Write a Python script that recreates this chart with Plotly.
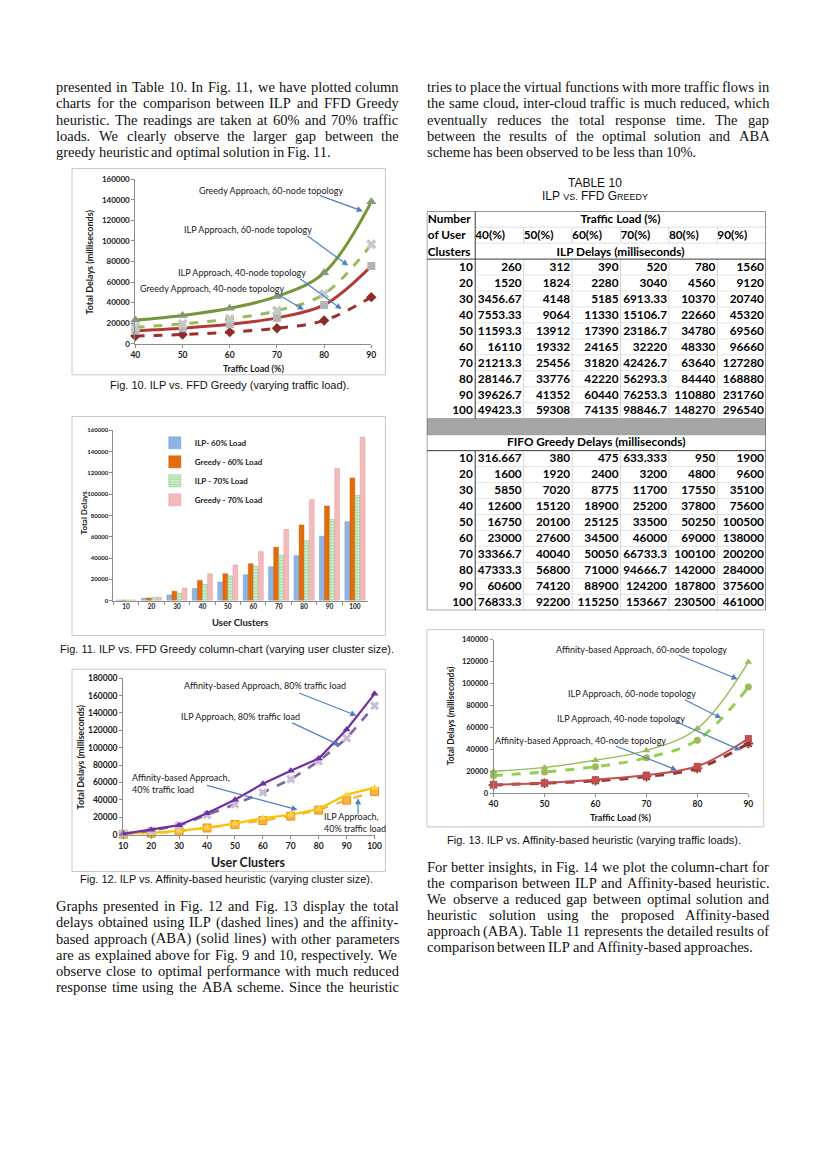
import plotly.graph_objects as go

W, H = 827, 1169
def fx(p): return p / W
def fy(p): return 1 - p / H

# ---------------- data ----------------
traffic_loads = [40, 50, 60, 70, 80, 90]
user_clusters = [10, 20, 30, 40, 50, 60, 70, 80, 90, 100]
load_labels = ["40(%)", "50(%)", "60(%)", "70(%)", "80(%)", "90(%)"]

# Table 10 - ILP delays (ms), one list per traffic-load column (rows = user clusters)
ilp_40 = [260, 1520, 3456.67, 7553.33, 11593.3, 16110, 21213.3, 28146.7, 39626.7, 49423.3]
ilp_50 = [312, 1824, 4148, 9064, 13912, 19332, 25456, 33776, 41352, 59308]
ilp_60 = [390, 2280, 5185, 11330, 17390, 24165, 31820, 42220, 60440, 74135]
ilp_70 = [520, 3040, 6913.33, 15106.7, 23186.7, 32220, 42426.7, 56293.3, 76253.3, 98846.7]
ilp_80 = [780, 4560, 10370, 22660, 34780, 48330, 63640, 84440, 110880, 148270]
ilp_90 = [1560, 9120, 20740, 45320, 69560, 96660, 127280, 168880, 231760, 296540]
# Table 10 - FIFO greedy delays (ms)
fifo_40 = [316.667, 1600, 5850, 12600, 16750, 23000, 33366.7, 47333.3, 60600, 76833.3]
fifo_50 = [380, 1920, 7020, 15120, 20100, 27600, 40040, 56800, 74120, 92200]
fifo_60 = [475, 2400, 8775, 18900, 25125, 34500, 50050, 71000, 88900, 115250]
fifo_70 = [633.333, 3200, 11700, 25200, 33500, 46000, 66733.3, 94666.7, 124200, 153667]
fifo_80 = [950, 4800, 17550, 37800, 50250, 69000, 100100, 142000, 187800, 230500]
fifo_90 = [1900, 9600, 35100, 75600, 100500, 138000, 200200, 284000, 375600, 461000]

# Affinity-based approach (read from Fig. 12 and Fig. 13)
aba_load80 = [800, 5500, 10800, 24500, 40000, 58500, 73500, 87500, 121000, 162000]
aba_load40 = [400, 1900, 4300, 8000, 12600, 19000, 22800, 29500, 46000, 54000]
aba_60node = [20000, 23500, 30000, 39000, 59000, 119500]
aba_40node = [7800, 9400, 12300, 16500, 24500, 49800]

ilp_cols = [ilp_40, ilp_50, ilp_60, ilp_70, ilp_80, ilp_90]
fifo_cols = [fifo_40, fifo_50, fifo_60, fifo_70, fifo_80, fifo_90]
r40 = user_clusters.index(40)
r60 = user_clusters.index(60)
ilp_40node = [c[r40] for c in ilp_cols]
ilp_60node = [c[r60] for c in ilp_cols]
greedy_40node = [c[r40] for c in fifo_cols]
greedy_60node = [c[r60] for c in fifo_cols]

# ---------------- figure ----------------
fig = go.Figure()
SANS = "Lato"
ARROW = "#4F81BD"

def line(x, y, ax, color, width, dash, sym, mcol, msize, shape="spline", mline=None):
    m = dict(symbol=sym, color=mcol, size=msize)
    if mline:
        m["line"] = mline
    return go.Scatter(x=x, y=y, xaxis=ax[0], yaxis=ax[1], mode="lines+markers",
                      line=dict(color=color, width=width, dash=dash, shape=shape),
                      marker=m, showlegend=False, cliponaxis=False, hoverinfo="skip")

# ---- Fig 10 ----
fig.add_trace(line(traffic_loads, ilp_40node, ("x", "y"), "#9E2F2F", 3, "dash", "diamond", "#8E2B2B", 8))
fig.add_trace(line(traffic_loads, greedy_40node, ("x", "y"), "#B23A36", 3, "solid", "square", "#B5B5B5", 8))
fig.add_trace(line(traffic_loads, ilp_60node, ("x", "y"), "#9BBB59", 3, "dash", "x", "#C8C8C8", 9))
fig.add_trace(line(traffic_loads, greedy_60node, ("x", "y"), "#76963A", 3, "solid", "triangle-up", "#84997A", 9))

# ---- Fig 11 ----
cats = [str(c) for c in user_clusters]
bar_specs = [
    ("ILP- 60% Load", ilp_60, dict(color="#8DB4E2", line=dict(color="#6F9BCB", width=0.5))),
    ("Greedy - 60% Load", fifo_60, dict(color="#E46C0A", line=dict(color="#C05A08", width=0.5))),
    ("ILP - 70% Load", ilp_70, dict(color="#D8F0D8", line=dict(color="#7DC47D", width=0.5),
                                    pattern=dict(shape="-", fgcolor="#6CC06C", size=3, solidity=0.45))),
    ("Greedy - 70% Load", fifo_70, dict(color="#F4B9BA", line=dict(color="#E59C9E", width=0.5))),
]
for i, (name, vals, mk) in enumerate(bar_specs):
    fig.add_trace(go.Bar(x=cats, y=vals, name=name, marker=mk, xaxis="x2", yaxis="y2",
                         legendgroup=f"g{i}", showlegend=True, hoverinfo="skip"))

# ---- Fig 12 ----
fig.add_trace(line(user_clusters, ilp_40, ("x3", "y3"), "#F2B531", 2.2, "dash", "square", "#F8B240", 8,
                   shape="linear", mline=dict(color="#E29A18", width=1)))
fig.add_trace(line(user_clusters, aba_load40, ("x3", "y3"), "#FFC000", 2.2, "solid", "triangle-up", "#FFD34D", 7,
                   shape="linear"))
fig.add_trace(line(user_clusters, ilp_80, ("x3", "y3"), "#8064A2", 2.6, "dash", "x", "#C9BEDA", 8, shape="linear"))
fig.add_trace(line(user_clusters, aba_load80, ("x3", "y3"), "#7030A0", 2.2, "solid", "triangle-up", "#7030A0", 7,
                   shape="linear"))

# ---- Fig 13 ----
fig.add_trace(line(traffic_loads, ilp_40node, ("x4", "y4"), "#943634", 3, "dash", "asterisk-open", "#943634", 8,
                   mline=dict(color="#943634", width=2)))
fig.add_trace(line(traffic_loads, aba_40node, ("x4", "y4"), "#C0504D", 2, "solid", "square", "#C0504D", 7))
fig.add_trace(line(traffic_loads, ilp_60node, ("x4", "y4"), "#92D050", 3, "dash", "circle", "#9BBB59", 7))
fig.add_trace(line(traffic_loads, aba_60node, ("x4", "y4"), "#9BBB59", 1.4, "solid", "triangle-up", "#9BBB59", 7))

# ---- Table 10 ----
TF = dict(family=SANS, size=11.8, color="#000", weight="bold")
cx, cy, ct = [], [], []
for start in (3, 15):
    for r, c in enumerate(user_clusters):
        cx.append(0.95); cy.append(start + r + 0.55); ct.append(str(c))
fig.add_trace(go.Scatter(x=cx, y=cy, text=ct, mode="text", textposition="middle left",
                         textfont=TF, xaxis="x5", yaxis="y5", showlegend=False, hoverinfo="skip"))
for cols, start in ((ilp_cols, 3), (fifo_cols, 15)):
    vx, vy, vt = [], [], []
    for ci, col in enumerate(cols):
        for r, v in enumerate(col):
            vx.append(ci + 1.96); vy.append(start + r + 0.55); vt.append(f"{v:.6g}")
    fig.add_trace(go.Scatter(x=vx, y=vy, text=vt, mode="text", textposition="middle left",
                             textfont=TF, xaxis="x5", yaxis="y5", showlegend=False, hoverinfo="skip"))
fig.add_trace(go.Scatter(x=[i + 1.0 for i in range(6)], y=[1.55] * 6, text=load_labels, mode="text",
                         textposition="middle right", textfont=TF, xaxis="x5", yaxis="y5",
                         showlegend=False, hoverinfo="skip"))
fig.add_trace(go.Scatter(x=[0.02, 0.02, 0.02], y=[0.55, 1.55, 2.6], text=["Number", "of User", "Clusters"],
                         mode="text", textposition="middle right", textfont=TF, xaxis="x5", yaxis="y5",
                         showlegend=False, hoverinfo="skip"))
fig.add_trace(go.Scatter(x=[4, 4, 3.5], y=[0.55, 2.6, 14.55],
                         text=["Traffic Load (%)", "ILP Delays (milliseconds)", "FIFO Greedy Delays (milliseconds)"],
                         mode="text", textposition="middle center", textfont=TF, xaxis="x5", yaxis="y5",
                         showlegend=False, hoverinfo="skip"))

shapes = []
def tl(x0, y0, x1, y1, color="#3a3a3a", w=1):
    shapes.append(dict(type="line", xref="x5", yref="y5", x0=x0, y0=y0, x1=x1, y1=y1,
                       line=dict(color=color, width=w)))
shapes.append(dict(type="rect", xref="x5", yref="y5", x0=0, x1=7, y0=13, y1=14,
                   fillcolor="#A6A6A6", line=dict(width=0), layer="below"))
for r in list(range(4, 13)) + list(range(16, 25)):
    tl(1, r, 7, r, "#E6E6E6")
for r in (1, 2):
    tl(1, r, 7, r, "#E0E0E0")
for c in range(2, 7):
    tl(c, 1, c, 2, "#D8D8D8"); tl(c, 3, c, 13, "#D8D8D8"); tl(c, 15, c, 25, "#D8D8D8")
tl(0, 3, 7, 3); tl(0, 13, 7, 13, "#9a9a9a"); tl(0, 14, 7, 14, "#9a9a9a"); tl(0, 15, 7, 15)
tl(1, 0, 1, 13); tl(1, 15, 1, 25)
shapes.append(dict(type="rect", xref="x5", yref="y5", x0=0, x1=7, y0=0, y1=25,
                   line=dict(color="#3a3a3a", width=1)))

# figure frames
for (x0, y0, x1, y1) in [(68, 165, 386, 373), (68, 415, 386, 636), (68, 670, 386, 874), (428, 630, 770, 829)]:
    shapes.append(dict(type="rect", xref="paper", yref="paper", x0=fx(x0), x1=fx(x1), y0=fy(y1), y1=fy(y0),
                       line=dict(color="#C8C8C8", width=1)))

# ---------------- annotations ----------------
ann = []

# Times / Liberation Serif advance widths (1/1000 em) for justified body text
TW = {" ": 250, ".": 250, ",": 250, "-": 333, "(": 333, ")": 333, "%": 833, ":": 278, ";": 278}
TW.update({c: 500 for c in "0123456789"})
TW.update(dict(zip("abcdefghijklmnopqrstuvwxyz",
                   [444, 500, 444, 500, 444, 333, 500, 500, 278, 278, 500, 278, 778, 500, 500, 500, 500,
                    333, 389, 278, 500, 500, 722, 500, 500, 444])))
TW.update(dict(zip("ABCDEFGHIJKLMNOPQRSTUVWXYZ",
                   [722, 667, 667, 722, 611, 556, 722, 722, 333, 389, 722, 611, 889, 722, 722, 556, 722,
                    667, 556, 611, 722, 722, 944, 722, 722, 611])))
BODY_SIZE = 14.5
BODY = dict(family="Liberation Serif", size=BODY_SIZE, color="#111")

def tw(s):
    return sum(TW.get(ch, 500) for ch in s) * BODY_SIZE / 1000

def paragraph(lines, x0, x1, y0, last_justified=False, lh=16.3):
    for i, s in enumerate(lines):
        y = y0 + lh * i
        words = s.split(" ")
        justify = (i < len(lines) - 1) or last_justified
        if justify and len(words) > 1:
            gap = (x1 - x0 - sum(tw(w) for w in words)) / (len(words) - 1)
        else:
            gap = tw(" ")
        x = x0
        for w in words:
            ann.append(dict(text=w, x=fx(x), y=fy(y), xref="paper", yref="paper", showarrow=False,
                            xanchor="left", yanchor="middle", font=BODY, borderpad=0, borderwidth=0))
            x += tw(w) + gap

top_left = ["presented in Table 10. In Fig. 11, we have plotted column",
            "charts for the comparison between ILP and FFD Greedy",
            "heuristic. The readings are taken at 60% and 70% traffic",
            "loads. We clearly observe the larger gap between the",
            "greedy heuristic and optimal solution in Fig. 11."]
top_right = ["tries to place the virtual functions with more traffic flows in",
             "the same cloud, inter-cloud traffic is much reduced, which",
             "eventually reduces the total response time. The gap",
             "between the results of the optimal solution and ABA",
             "scheme has been observed to be less than 10%."]
bottom_left = ["Graphs presented in Fig. 12 and Fig. 13 display the total",
               "delays obtained using ILP (dashed lines) and the affinity-",
               "based approach (ABA) (solid lines) with other parameters",
               "are as explained above for Fig. 9 and 10, respectively. We",
               "observe close to optimal performance with much reduced",
               "response time using the ABA scheme. Since the heuristic"]
bottom_right = ["For better insights, in Fig. 14 we plot the column-chart for",
                "the comparison between ILP and Affinity-based heuristic.",
                "We observe a reduced gap between optimal solution and",
                "heuristic solution using the proposed Affinity-based",
                "approach (ABA). Table 11 represents the detailed results of",
                "comparison between ILP and Affinity-based approaches."]
paragraph(top_left, 52, 399, 83)
paragraph(top_right, 428, 775, 83)
paragraph(bottom_left, 52, 399, 909, last_justified=True)
paragraph(bottom_right, 428, 775, 869)

def textline(x, y, s, font, anchor="left"):
    ann.append(dict(text=s, x=fx(x), y=fy(y), xref="paper", yref="paper", showarrow=False,
                    xanchor=anchor, yanchor="middle", font=font))

CAP = dict(family="Liberation Sans", size=11, color="#111")
textline(228, 383, "Fig. 10. ILP vs. FFD Greedy (varying traffic load).", CAP, "center")
textline(225, 650, "Fig. 11. ILP vs. FFD Greedy column-chart (varying user cluster size).", CAP, "center")
textline(225, 882, "Fig. 12. ILP vs. Affinity-based heuristic (varying cluster size).", CAP, "center")
textline(598, 842, "Fig. 13. ILP vs. Affinity-based heuristic (varying traffic loads).", CAP, "center")
TT = dict(family="Liberation Sans", size=12, color="#111")
textline(599, 180, "TABLE 10", TT, "center")
textline(599, 193, "ILP <span style='font-size:9px'>VS.</span> FFD G<span style='font-size:9px'>REEDY</span>",
         TT, "center")

def axtitle(x, y, s, size, angle=0):
    ann.append(dict(text=s, x=fx(x), y=fy(y), xref="paper", yref="paper", showarrow=False,
                    xanchor="center", yanchor="middle", textangle=angle,
                    font=dict(family=SANS, size=size, color="#1a1a1a", weight="bold")))
axtitle(86, 259, "Total Delays (milliseconds)", 9, -90)
axtitle(252, 367, "Traffic Load (%)", 9)
axtitle(80, 512, "Total Delays", 8, -90)
axtitle(238, 623, "User Clusters", 9.5)
axtitle(77, 758, "Total Delays (milliseconds)", 9, -90)
axtitle(247, 865, "User Clusters", 12.5)
axtitle(452, 717, "Total Delays (milliseconds)", 8.5, -90)
axtitle(625, 820, "Traffic Load (%)", 9)

def label(ax, x, y, s, anchor="center", size=9):
    ann.append(dict(text=s, x=x, y=y, xref=ax[0], yref=ax[1], showarrow=False, xanchor=anchor,
                    yanchor="middle", align="left", font=dict(family=SANS, size=size, color="#1a1a1a")))
def arrow(ax, tx, ty, hx, hy):
    ann.append(dict(text="", x=hx, y=hy, ax=tx, ay=ty, xref=ax[0], yref=ax[1], axref=ax[0], ayref=ax[1],
                    showarrow=True, arrowhead=2, arrowsize=1, arrowwidth=1.2, arrowcolor=ARROW))

A10 = ("x", "y")
label(A10, 68.8, 149400, "Greedy Approach, 60-node topology")
arrow(A10, 78.8, 144600, 88.2, 128900)
label(A10, 63.85, 111500, "ILP Approach, 60-node topology")
arrow(A10, 76.1, 106000, 85.1, 76100)
label(A10, 62.7, 69100, "ILP Approach, 40-node topology")
arrow(A10, 74.6, 64300, 83.7, 33700)
label(A10, 56.2, 53700, "Greedy Approach, 40-node topology")
arrow(A10, 69.8, 48900, 75.7, 33200)

A12 = ("x3", "y3")
label(A12, 60.6, 171200, "Affinity-based Approach, 80% traffic load")
arrow(A12, 72.4, 163700, 93.5, 137000)
label(A12, 52.0, 136300, "ILP Approach, 80% traffic load")
arrow(A12, 70.0, 129400, 87.6, 102700)
label(A12, 12.4, 58800, "Affinity-based Approach,<br>40% traffic load", "left")
arrow(A12, 39.4, 57100, 72.4, 28500)
label(A12, 81.3, 13400, "ILP Approach,<br>40% traffic load", "left")
arrow(A12, 94.1, 21300, 94.1, 41900)

A13 = ("x4", "y4")
label(A13, 69.0, 131000, "Affinity-based Approach, 60-node topology")
arrow(A13, 76.0, 126400, 87.9, 103900)
label(A13, 67.1, 91000, "ILP Approach, 60-node topology")
arrow(A13, 77.2, 85800, 84.7, 68400)
label(A13, 65.0, 68400, "ILP Approach, 40-node topology")
arrow(A13, 75.3, 66200, 88.5, 39100)
label(A13, 57.1, 48100, "Affinity-based Approach, 40-node topology")
arrow(A13, 63.7, 43600, 76.0, 21000)

# ---------------- axes ----------------
def axis(domain, size, **kw):
    d = dict(domain=domain, showgrid=False, zeroline=False, showline=True, linecolor="#8C8C8C",
             linewidth=1, ticks="outside", ticklen=3, tickcolor="#8C8C8C", fixedrange=True,
             tickfont=dict(family=SANS, size=size, color="#1a1a1a", weight="bold"))
    d.update(kw)
    return d

fig.update_layout(
    width=W, height=H, margin=dict(l=0, r=0, t=0, b=0),
    paper_bgcolor="white", plot_bgcolor="white",
    barmode="group", bargap=0.2, bargroupgap=0.05,
    xaxis=axis([fx(132.3), fx(371.7)], 8.5, anchor="y", range=[40, 90], tickvals=traffic_loads),
    yaxis=axis([fy(341.7), fy(175.7)], 8, anchor="x", range=[0, 160000], dtick=20000, tickformat="d"),
    xaxis2=axis([fx(110), fx(368)], 6.5, anchor="y2", type="category", tickson="boundaries"),
    yaxis2=axis([fy(600.7), fy(429)], 6, anchor="x2", range=[0, 160000], dtick=20000, tickformat="d"),
    xaxis3=axis([fx(120), fx(375)], 8.5, anchor="y3", range=[10, 100], tickvals=user_clusters),
    yaxis3=axis([fy(836.7), fy(679)], 8.5, anchor="x3", range=[0, 180000], dtick=20000, tickformat="d"),
    xaxis4=axis([fx(495.7), fx(754.3)], 8.5, anchor="y4", range=[40, 90], tickvals=traffic_loads),
    yaxis4=axis([fy(795), fy(640)], 7.5, anchor="x4", range=[0, 140000], dtick=20000, tickformat="d"),
    xaxis5=dict(domain=[fx(428), fx(772)], range=[0, 7], visible=False, fixedrange=True, anchor="y5"),
    yaxis5=dict(domain=[fy(610.5), fy(208)], range=[25, 0], visible=False, fixedrange=True, anchor="x5"),
    legend=dict(x=fx(152), y=fy(427), xanchor="left", yanchor="top", bgcolor="rgba(0,0,0,0)",
                font=dict(family=SANS, size=8, color="#222", weight="bold"), tracegroupgap=1,
                itemwidth=30, traceorder="normal"),
    shapes=shapes, annotations=ann, showlegend=True,
)

fig.write_html("out.html", config={"displayModeBar": False, "staticPlot": True},
               post_script="document.body.style.margin='0';document.body.style.padding='0';")
